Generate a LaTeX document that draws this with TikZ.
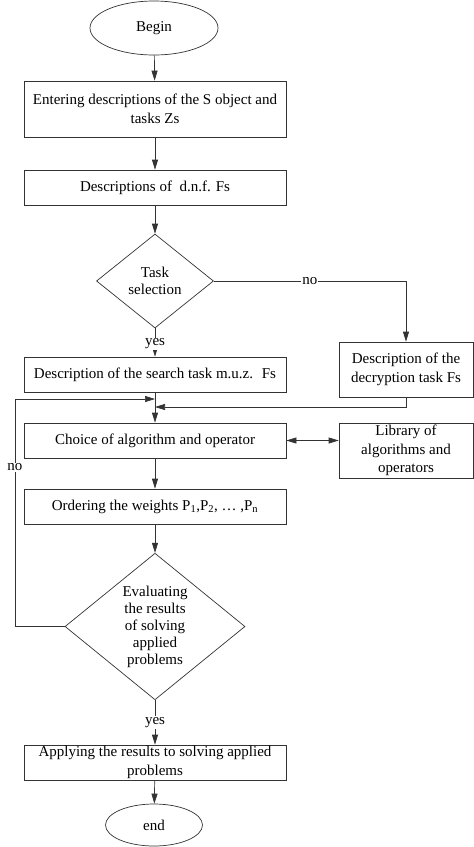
\documentclass[tikz,border=0pt]{standalone}
\usepackage{fontspec}
\setmainfont{Liberation Serif}
\usetikzlibrary{shapes.geometric,arrows.meta}

\begin{document}
\begin{tikzpicture}[
	x=1pt, y=-1pt,
	line width=0.7pt, draw=black!80,
	terminal/.style={ ellipse, draw, inner sep=0pt, font=\fontsize{15}{19}\selectfont },
	stepbox/.style={ rectangle, draw, align=center, inner sep=0pt, minimum width=262pt, minimum height=35pt, font=\fontsize{15}{19}\selectfont },
	sidebox/.style={ rectangle, draw, align=center, inner sep=0pt, minimum width=134pt, minimum height=55pt, font=\fontsize{15}{18.5}\selectfont },
	decision/.style={ diamond, draw, align=center, inner sep=0pt, font=\fontsize{15}{17}\selectfont },
	flow/.style={ draw, -{Triangle[length=10pt,width=6pt]} },
	flowboth/.style={ draw, {Triangle[length=10pt,width=6pt]}-{Triangle[length=10pt,width=6pt]} },
	lbl/.style={ fill=white, inner sep=1pt, font=\fontsize{15}{18}\selectfont }
]
\useasboundingbox (0,0) rectangle (474,847);

\node at (154,28) (begin) [terminal,minimum width=128pt,minimum height=54pt] {Begin};
\node at (155,109) (enter) [stepbox,minimum height=56pt] {Entering descriptions of the S object and\\tasks Zs};
\node at (155,187.5) (dnf) [stepbox] {Descriptions of \ d.n.f. Fs};
\node at (155,281) (sel) [decision,minimum width=117pt,minimum height=94pt] {Task\\selection};
\node at (155,374.5) (search) [stepbox] {Description of the search task m.u.z. \ Fs};
\node at (406,369.5) (decr) [sidebox] {Description of the\\decryption task Fs};
\node at (155,440.5) (choice) [stepbox] {Choice of algorithm and operator};
\node at (406,450.5) (lib) [sidebox] {Library of\\algorithms and\\operators};
\node at (155,506.5) (order) [stepbox] {Ordering the weights P\textsubscript{1},P\textsubscript{2}, \dots\ ,P\textsubscript{n}};
\node at (155,626.5) (eval) [decision,minimum width=180pt,minimum height=143pt] {Evaluating\\the results\\of solving\\applied\\problems};
\node at (155,762.5) (apply) [stepbox] {Applying the results to solving applied\\problems};
\node at (154,825) (finish) [terminal,minimum width=97pt,minimum height=42pt] {end};

\coordinate (j1) at (155,399);
\coordinate (j2) at (155,407);
\coordinate (lp) at (15,399);

\draw[flow] (begin) -- (enter);
\draw[flow] (enter) -- (dnf);
\draw[flow] (dnf) -- (sel);
\draw[flow] (sel.south) -- node[lbl,pos=0.55] {yes} (search.north);
\draw[flow] (sel.east) -| node[lbl,pos=0.25] {no} (decr.north);
\draw[flow] (search) -- (choice);
\draw[flow] (decr.south) |- (j2);
\draw[flow] (eval.west) -| node[lbl,pos=0.85] {no} (lp) -- (j1);
\draw[flowboth] (choice.east) -- (choice.east -| lib.west);
\draw[flow] (choice) -- (order);
\draw[flow] (order) -- (eval);
\draw[flow] (eval.south) -- node[lbl] {yes} (apply.north);
\draw[flow] (apply) -- (finish);

\end{tikzpicture}
\end{document}
